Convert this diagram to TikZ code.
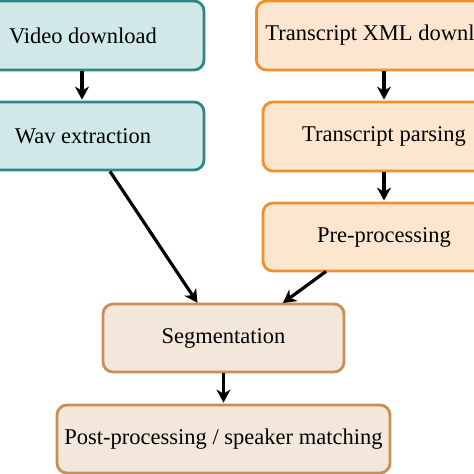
\documentclass[tikz,border=0pt]{standalone}
\usepackage{fontspec}
\setmainfont{Liberation Serif}
\usetikzlibrary{arrows.meta,calc}
\definecolor{tealfill}{HTML}{D0E8E8}
\definecolor{tealline}{HTML}{2E8686}
\definecolor{orfill}{HTML}{FDE6CF}
\definecolor{orline}{HTML}{F0902C}
\definecolor{begfill}{HTML}{F3E6DA}
\definecolor{begline}{HTML}{C98E55}
\tikzset{
  box/.style={draw, line width=2.8pt, rounded corners=10pt, minimum width=242pt,
    minimum height=68pt, inner sep=0pt, font=\fontsize{22.5}{27}\selectfont},
  tealbox/.style={box, fill=tealfill, draw=tealline},
  orbox/.style={box, fill=orfill, draw=orline},
  begbox/.style={box, fill=begfill, draw=begline},
  flow/.style={line width=3.2pt, -{Stealth[length=13pt,width=14pt,inset=4pt]}, shorten >=1pt}
}
\begin{document}
\begin{tikzpicture}[x=1pt,y=-1pt]
\useasboundingbox (0,0) rectangle (474,474);
\clip (0,0) rectangle (474,474);
\fill[white] (0,0) rectangle (474,474);
\node[tealbox, minimum height=69pt] (video) at (83,35.5) {Video download};
\node[tealbox] (wav) at (83,136) {Wav extraction};
\node[orbox, anchor=west, inner xsep=9pt, minimum width=0pt, minimum height=69pt] (xml) at (255,35.5) {Transcript XML download\hspace{30pt}};
\node[orbox, minimum height=69pt] (parse) at (384,136.5) {Transcript parsing};
\node[orbox] (pre) at (384,237) {Pre-processing};
\node[begbox, minimum width=241pt] (seg) at (223.5,338) {Segmentation};
\node[begbox, minimum width=333pt] (post) at (223.5,439) {Post-processing / speaker matching};
\draw[flow] (video.south -| 82,0) -- (wav.north -| 82,0);
\draw[flow] (xml.south -| 384,0) -- (parse.north);
\draw[flow] (parse.south) -- (pre.north);
\draw[flow] ([xshift=27pt]wav.south) -- ([xshift=-25.5pt,yshift=-1pt]seg.north);
\draw[flow] ([xshift=-58pt,yshift=1pt]pre.south) -- ([xshift=58.5pt,yshift=-1pt]seg.north);
\draw[flow] (seg.south) -- (post.north);
\end{tikzpicture}
\end{document}
